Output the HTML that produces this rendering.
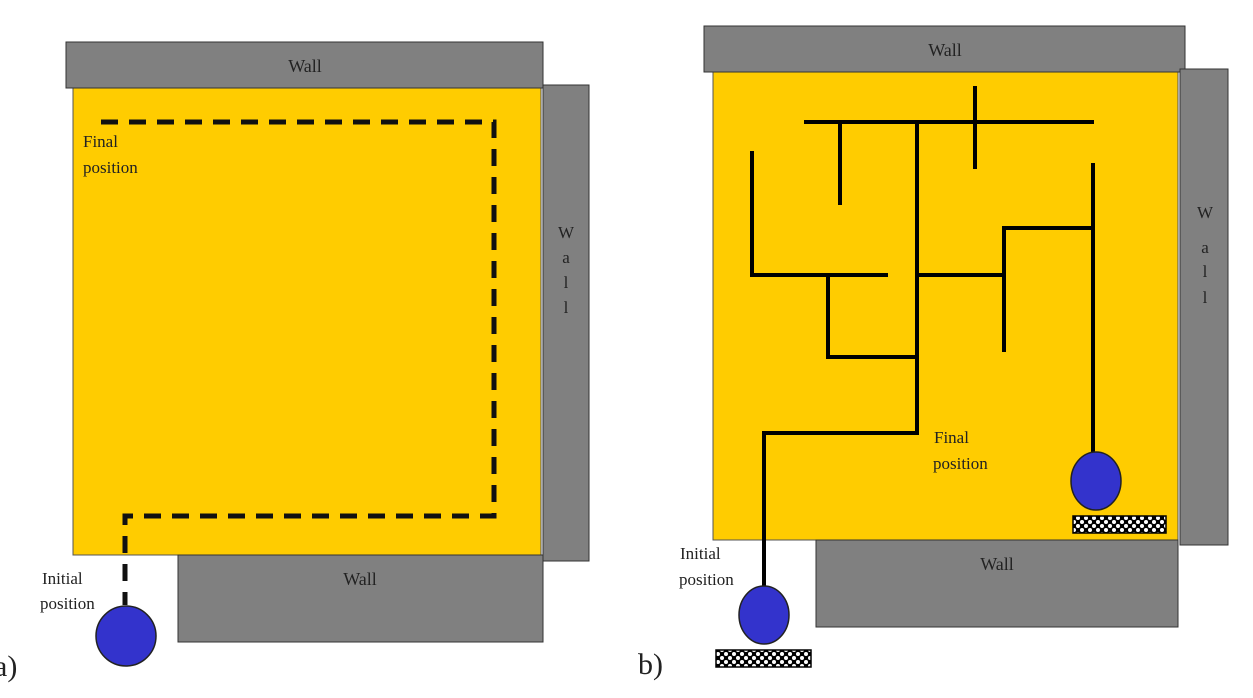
<!DOCTYPE html>
<html><head><style>
html,body{margin:0;padding:0;background:#fff;}
svg text{font-family:"Liberation Serif",serif;fill:#222;}
</style></head><body>
<svg width="1253" height="693" viewBox="0 0 1253 693" xmlns="http://www.w3.org/2000/svg">
<defs>
<pattern id="chk" width="8" height="8" patternUnits="userSpaceOnUse">
<rect width="8" height="8" fill="#000"/>
<circle cx="2" cy="2" r="2" fill="#fff"/>
<circle cx="6" cy="6" r="2" fill="#fff"/>
</pattern>
</defs>
<!-- Panel a -->
<rect x="73" y="88" width="468" height="467" fill="#ffcc00" stroke="#555" stroke-width="1"/>
<rect x="66" y="42" width="477" height="46" fill="#808080" stroke="#333" stroke-width="1"/>
<text x="305" y="72" font-size="18" text-anchor="middle">Wall</text>
<rect x="543" y="85" width="46" height="476" fill="#808080" stroke="#333" stroke-width="1"/>
<text x="566" y="238" font-size="17" text-anchor="middle">W</text>
<text x="566" y="263" font-size="17" text-anchor="middle">a</text>
<text x="566" y="288" font-size="17" text-anchor="middle">l</text>
<text x="566" y="313" font-size="17" text-anchor="middle">l</text>
<rect x="178" y="555" width="365" height="87" fill="#808080" stroke="#333" stroke-width="1"/>
<text x="360" y="585" font-size="18" text-anchor="middle">Wall</text>
<path d="M101 122 H494 V516 H125 V605" fill="none" stroke="#111" stroke-width="5" stroke-dasharray="17,11"/>
<text x="83" y="147" font-size="17">Final</text>
<text x="83" y="173" font-size="17">position</text>
<text x="42" y="584" font-size="17">Initial</text>
<text x="40" y="609" font-size="17">position</text>
<circle cx="126" cy="636" r="30" fill="#3333cc" stroke="#222" stroke-width="1.5"/>
<text x="-6" y="676" font-size="30">a)</text>
<!-- Panel b -->
<rect x="713" y="72" width="465" height="468" fill="#ffcc00" stroke="#555" stroke-width="1"/>
<rect x="704" y="26" width="481" height="46" fill="#808080" stroke="#333" stroke-width="1"/>
<text x="945" y="56" font-size="18" text-anchor="middle">Wall</text>
<rect x="1180" y="69" width="48" height="476" fill="#808080" stroke="#333" stroke-width="1"/>
<text x="1205" y="218" font-size="17" text-anchor="middle">W</text>
<text x="1205" y="253" font-size="17" text-anchor="middle">a</text>
<text x="1205" y="277" font-size="17" text-anchor="middle">l</text>
<text x="1205" y="303" font-size="17" text-anchor="middle">l</text>
<rect x="816" y="540" width="362" height="87" fill="#808080" stroke="#333" stroke-width="1"/>
<text x="997" y="570" font-size="18" text-anchor="middle">Wall</text>
<g stroke="#000" stroke-width="4" fill="none" stroke-linecap="square">
<path d="M806 122 H1092"/>
<path d="M975 88 V167"/>
<path d="M840 122 V203"/>
<path d="M917 122 V433 H764 V590"/>
<path d="M752 153 V275 H886"/>
<path d="M828 275 V357 H917"/>
<path d="M917 275 H1004"/>
<path d="M1004 350 V228 H1093"/>
<path d="M1093 165 V460"/>
</g>
<text x="934" y="443" font-size="17">Final</text>
<text x="933" y="469" font-size="17">position</text>
<text x="680" y="559" font-size="17">Initial</text>
<text x="679" y="585" font-size="17">position</text>
<ellipse cx="1096" cy="481" rx="25" ry="29" fill="#3333cc" stroke="#222" stroke-width="1.5"/>
<ellipse cx="764" cy="615" rx="25" ry="29" fill="#3333cc" stroke="#222" stroke-width="1.5"/>
<rect x="1073" y="516" width="93" height="17" fill="url(#chk)" stroke="#000" stroke-width="1.5"/>
<rect x="716" y="650" width="95" height="17" fill="url(#chk)" stroke="#000" stroke-width="1.5"/>
<text x="638" y="674" font-size="30">b)</text>
</svg>
</body></html>
